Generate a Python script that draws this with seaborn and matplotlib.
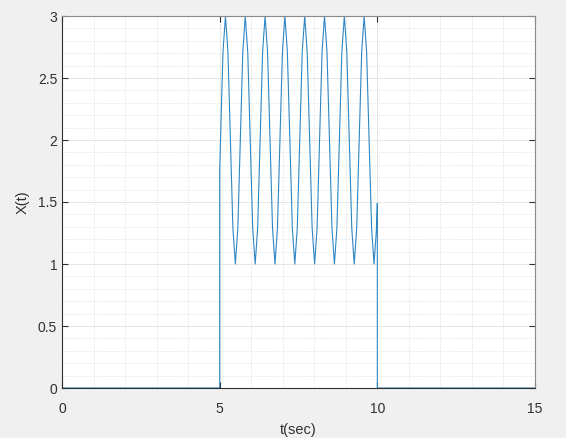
import matplotlib
matplotlib.use("Agg")
import matplotlib.pyplot as plt
import seaborn as sns
import pandas as pd
from matplotlib.ticker import MultipleLocator

# Signal samples: zero, a jump at t=5, oscillation
# between 1 and 3 (8 samples per cycle), a drop at t=10, zero again.
t_before = [0.0, 5.0]
x_before = [0.0, 0.0]

t_osc = [5.0,
         5.0265, 5.1051, 5.1836, 5.2622, 5.3407, 5.4193, 5.4978, 5.5763,
         5.6549, 5.7334, 5.8119, 5.8905, 5.9690, 6.0476, 6.1261, 6.2046,
         6.2832, 6.3617, 6.4403, 6.5188, 6.5973, 6.6759, 6.7544, 6.8330,
         6.9115, 6.9900, 7.0686, 7.1471, 7.2257, 7.3042, 7.3827, 7.4613,
         7.5398, 7.6184, 7.6969, 7.7754, 7.8540, 7.9325, 8.0111, 8.0896,
         8.1681, 8.2467, 8.3252, 8.4038, 8.4823, 8.5608, 8.6394, 8.7179,
         8.7965, 8.8750, 8.9535, 9.0321, 9.1106, 9.1892, 9.2677, 9.3462,
         9.4248, 9.5033, 9.5819, 9.6604, 9.7389, 9.8175, 9.8960, 9.9746,
         10.0]
x_osc = [1.74,
         2.0, 2.71, 3.0, 2.71, 2.0, 1.29, 1.0, 1.29,
         2.0, 2.71, 3.0, 2.71, 2.0, 1.29, 1.0, 1.29,
         2.0, 2.71, 3.0, 2.71, 2.0, 1.29, 1.0, 1.29,
         2.0, 2.71, 3.0, 2.71, 2.0, 1.29, 1.0, 1.29,
         2.0, 2.71, 3.0, 2.71, 2.0, 1.29, 1.0, 1.29,
         2.0, 2.71, 3.0, 2.71, 2.0, 1.29, 1.0, 1.29,
         2.0, 2.71, 3.0, 2.71, 2.0, 1.29, 1.0, 1.29,
         2.0, 2.71, 3.0, 2.71, 2.0, 1.29, 1.0, 1.29,
         1.49]

t_after = [10.0, 15.0]
x_after = [0.0, 0.0]

x_ticks = [0, 5, 10, 15]
y_ticks = [0, 0.5, 1, 1.5, 2, 2.5, 3]
y_tick_labels = ["0", "0.5", "1", "1.5", "2", "2.5", "3"]

df = pd.DataFrame({"t": t_before + t_osc + t_after,
                   "x": x_before + x_osc + x_after})

sns.set_style("white")
plt.rcParams["font.family"] = ["Liberation Sans", "DejaVu Sans"]

fig = plt.figure(figsize=(5.66, 4.38), dpi=100, facecolor="#f0f0f0")
ax = fig.add_axes([62 / 566, 1 - 388 / 438, (535 - 62) / 566, (388 - 16) / 438])
ax.set_facecolor("white")

sns.lineplot(data=df, x="t", y="x", sort=False, estimator=None,
             color="#2f86c4", linewidth=0.8, ax=ax)

ax.set_xlim(0, 15)
ax.set_ylim(0, 3)
ax.set_xticks(x_ticks)
ax.set_xticklabels([str(v) for v in x_ticks])
ax.set_yticks(y_ticks)
ax.set_yticklabels(y_tick_labels)
ax.xaxis.set_minor_locator(MultipleLocator(1))
ax.yaxis.set_minor_locator(MultipleLocator(0.1))

ax.grid(True, which="major", color="#e6e6e6", linewidth=0.7, linestyle="-")
ax.grid(True, which="minor", color="#dadada", linewidth=0.6, linestyle=(0, (1, 1.5)))
ax.set_axisbelow(True)

for s in ax.spines.values():
    s.set_visible(True)
    s.set_color("#8a8a8a")
    s.set_linewidth(0.8)
ax.spines["left"].set_color("#303030")
ax.spines["bottom"].set_color("#303030")

ax.tick_params(axis="both", which="major", direction="in", length=4,
               color="#303030", labelsize=10, labelcolor="#303030",
               top=True, right=True, bottom=True, left=True)
ax.tick_params(axis="both", which="minor", length=0)
ax.tick_params(axis="x", pad=10)

ax.set_xlabel("t(sec)", fontsize=10.5, color="#303030", labelpad=5)
ax.set_ylabel("X(t)", fontsize=10.5, color="#303030", labelpad=6)

fig.savefig("out.png", dpi=100, facecolor=fig.get_facecolor())
